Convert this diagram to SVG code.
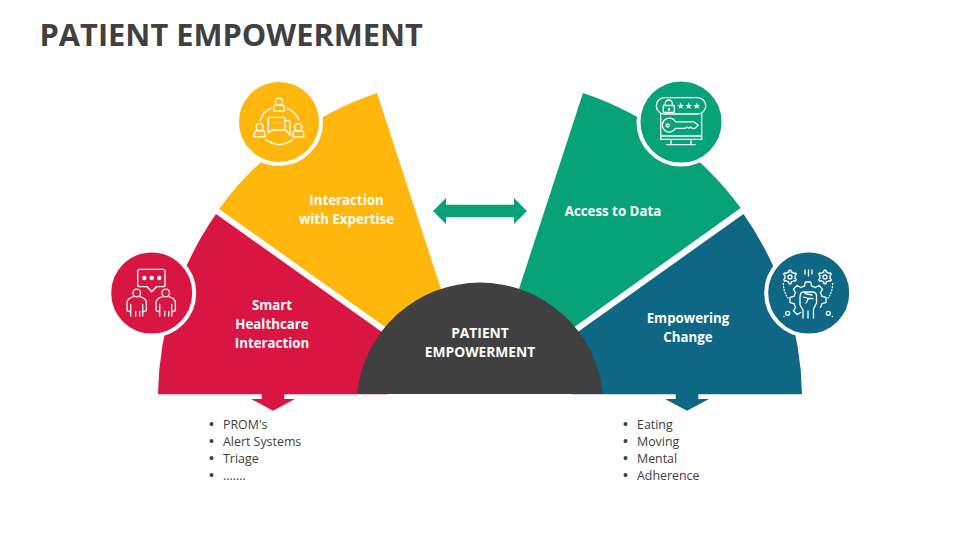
<svg xmlns="http://www.w3.org/2000/svg" width="960" height="540" viewBox="0 0 960 540">
<style>
text{font-family:"Open Sans","Liberation Sans",sans-serif}
.title{font-size:30.8px;font-weight:700;fill:#404040}
.lbl{font-size:13.3px;font-weight:700;fill:#fff;text-anchor:middle}
.lst{font-size:12.4px;fill:#404040}
.dot{font-family:"Liberation Sans",sans-serif;font-size:14px}
.ic{fill:none;stroke:#fff;stroke-width:1.3;stroke-linecap:round;stroke-linejoin:round}
.ring{stroke:#fff;stroke-width:4}
</style>
<defs>
<path id="tooth" d="M-3.6,-14 L-2.6,-18 H2.6 L3.6,-14 A14.46,14.46 0 0 1 7.35,-12.44"/>
<path id="smalltooth" d="M-1.3,-5 L-.9,-6.8 H.9 L1.3,-5 A5.17,5.17 0 0 1 3.68,-3.63"/>
<g id="smallgear">
<circle r="2"/>
<use href="#smalltooth"/><use href="#smalltooth" transform="rotate(60)"/><use href="#smalltooth" transform="rotate(120)"/><use href="#smalltooth" transform="rotate(180)"/><use href="#smalltooth" transform="rotate(240)"/><use href="#smalltooth" transform="rotate(300)"/>
</g>
<path id="star" d="M0,-3.4 L1,-1.1 3.3,-1 1.5,.5 2.1,2.8 0,1.5 -2.1,2.8 -1.5,.5 -3.3,-1 -1,-1.1Z" fill="#fff"/>
<g id="personsmall">
<circle cx="0" cy="-3.5" r="3.6"/>
<path d="M-5.4,6 V3.5 Q-5.4,0 -2.6,-.4 Q0,1 2.6,-.4 Q5.4,0 5.4,3.5 V6 Z"/>
</g>
<g id="personbig">
<circle cx="0" cy="-6.5" r="3.8"/>
<path d="M-3.5,-2.6 Q-9.7,-1.5 -9.7,4 V10 Q-9.7,12 -7,12 M-6,5 V16.5 M-1,12 V16.5 M3,12 V16.5 M6,5 V16.5 M3.5,-2.6 Q9.7,-1.5 9.7,4 V10 Q9.7,12 7,12"/>
</g>
</defs>

<rect width="960" height="540" fill="#fff"/>
<text class="title" x="39.5" y="46">PATIENT EMPOWERMENT</text>

<g id="node-smart">
<path d="M158,394 A324,324 0 0 1 216,214 L383,332.7 L390,394 Z" fill="#D91542"/>
<path d="M158,394.5 H388" stroke="#F6C5D2" stroke-width="1"/>
<path d="M261.7,394 H284.3 V399 H295 L273,410.7 L251,399 H261.7 Z" fill="#D91542"/>
</g>
<g id="node-interaction">
<path d="M219,209 A324,324 0 0 1 377,93 L441,289 L400,345 L386.7,328 Z" fill="#FFB60D"/>
</g>
<g id="node-access">
<path d="M583,93 A324,324 0 0 1 740.7,208 L573,328 L560,345 L519,289 Z" fill="#07A277"/>
</g>
<g id="node-change">
<path d="M802,394 A324,324 0 0 0 743.5,214 L576.7,332.7 L570,394 Z" fill="#0D6785"/>
<path d="M572,394.5 H802" stroke="#C3D9E1" stroke-width="1"/>
<path d="M675.7,394 H698.3 V399 H709 L687,410.7 L665,399 H675.7 Z" fill="#0D6785"/>
</g>
<g id="node-center">
<path d="M357,394 A123.6,123.6 0 0 1 603,394 Z" fill="#404040"/>
<text class="lbl" x="480" y="338" style="font-size:13.8px">PATIENT</text>
<text class="lbl" x="480" y="357" style="font-size:13.8px">EMPOWERMENT</text>
</g>

<g id="connectors">
<path d="M433,211 L446,198 V204.7 H514 V198 L527,211 L514,224 V217.3 H446 V224 Z" fill="#07A277"/>
</g>

<g id="labels">
<text class="lbl" x="346.5" y="205">Interaction</text>
<text class="lbl" x="346.5" y="224">with Expertise</text>
<text class="lbl" x="272" y="310">Smart</text>
<text class="lbl" x="272" y="329">Healthcare</text>
<text class="lbl" x="272" y="348">Interaction</text>
<text class="lbl" x="613" y="216">Access to Data</text>
<text class="lbl" x="688" y="323">Empowering</text>
<text class="lbl" x="688" y="342">Change</text>
</g>

<g id="icon-interaction">
<circle class="ring" cx="279" cy="122" r="42" fill="#FFB60D"/>
<g class="ic">
<use href="#personsmall" transform="translate(279,105.2)"/>
<use href="#personsmall" transform="translate(259.7,130.8)"/>
<use href="#personsmall" transform="translate(298.3,130.8)"/>
<path d="M260,120.7 A20,20 0 0 1 270.7,108.3 M287.3,108.3 A20,20 0 0 1 298.7,120 M265.7,139.3 A20,20 0 0 0 292.7,139.3"/>
<path d="M270,117.3 H283 Q285,117.3 285,119.3 V128 Q285,130 283,130 H272.5 L268.3,132.7 V119.3 Q268,117.3 270,117.3 Z"/>
<path d="M285,120.7 H288 Q290,120.7 290,122.7 V135 L285.5,130"/>
</g>
<g fill="#fff"><circle cx="273.5" cy="122.8" r=".7"/><circle cx="276.7" cy="122.8" r=".7"/><circle cx="279.9" cy="122.8" r=".7"/></g>
</g>

<g id="icon-smart">
<circle class="ring" cx="151.7" cy="293" r="42.5" fill="#D91542"/>
<g class="ic">
<path d="M140,269.3 H163 Q165,269.3 165,271.3 V284.7 Q165,286.7 163,286.7 H156.5 L151.7,291.7 L147,286.7 H140 Q137.7,286.7 137.7,284.7 V271.3 Q137.7,269.3 140,269.3 Z"/>
<use href="#personbig" transform="translate(136.7,299.5)"/>
<use href="#personbig" transform="translate(165.7,299.5)"/>
</g>
<g fill="#fff"><circle cx="144.3" cy="278" r="2.2"/><circle cx="151.7" cy="278" r="2.2"/><circle cx="159.3" cy="278" r="2.2"/></g>
</g>

<g id="icon-access">
<circle class="ring" cx="681" cy="122" r="42.5" fill="#07A277"/>
<g class="ic">
<rect x="656.3" y="97.7" width="49.4" height="16.3" rx="8.1"/>
<path d="M660.7,114 V139.3 H701.7 V114 M660.7,136 H701.7"/>
<path d="M671,139.3 V144.5 M691,139.3 V144.5 M666.7,144.7 H695"/>
<rect x="663.3" y="105.5" width="11" height="7" />
<path d="M665.3,105.5 V103.5 A3.5,3.5 0 0 1 672.3,103.5 V105.5"/>
<path d="M675.5,121.8 H693.5 L698.3,125 L695,128.3 H692 L690.5,127 L689,128.3 L687,127 L685.5,128.3 H675.5 A7,7 0 1 1 675.5,121.8 Z"/>
<circle cx="667.7" cy="125.5" r="1.5"/>
</g>
<use href="#star" x="680.7" y="106"/><use href="#star" x="688.7" y="106"/><use href="#star" x="696.7" y="106"/>
<rect x="668" y="108" width="1.8" height="2.8" fill="#fff"/>
</g>

<g id="icon-change">
<circle class="ring" cx="808.7" cy="293" r="42.5" fill="#0D6785"/>
<g class="ic">
<use href="#smallgear" transform="translate(790,277)"/>
<use href="#smallgear" transform="translate(825,277)"/>
<path d="M805,270 V274 M808.5,270 V276 M812,270 V274"/>
<path d="M783.3,283.5 Q783.6,292 788,298 M832.7,283.5 Q832.4,292 828,298" stroke-dasharray="1 2"/>
<g transform="translate(808,300)">
<use href="#tooth" transform="rotate(-135)"/><use href="#tooth" transform="rotate(-90)"/><use href="#tooth" transform="rotate(-45)"/><use href="#tooth"/><use href="#tooth" transform="rotate(45)"/><use href="#tooth" transform="rotate(90)"/>
</g>
<path d="M800,297 Q800,292 804,292 H812 Q816.5,292 816.5,296 V303 L813.5,309 V318 M800,297 V305 L803,310 V318 M803.5,297 L808.5,298.5 L806,303 M808.5,298.5 H813 M808,311 V318 M805,293.5 L812,295"/>
<circle cx="787.7" cy="313.3" r="2"/><circle cx="828.3" cy="313.3" r="2"/>
</g>
<g fill="#fff"><circle cx="784" cy="316.5" r=".8"/><circle cx="832.3" cy="316.5" r=".8"/></g>
</g>

<g id="list-left" class="lst">
<text class="dot" x="209" y="429">•</text><text x="223" y="429">PROM's</text>
<text class="dot" x="209" y="446">•</text><text x="223" y="446">Alert Systems</text>
<text class="dot" x="209" y="463">•</text><text x="223" y="463">Triage</text>
<text class="dot" x="209" y="480">•</text><text x="223" y="480">.......</text>
</g>
<g id="list-right" class="lst">
<text class="dot" x="623" y="429">•</text><text x="637" y="429">Eating</text>
<text class="dot" x="623" y="446">•</text><text x="637" y="446">Moving</text>
<text class="dot" x="623" y="463">•</text><text x="637" y="463">Mental</text>
<text class="dot" x="623" y="480">•</text><text x="637" y="480">Adherence</text>
</g>
</svg>
